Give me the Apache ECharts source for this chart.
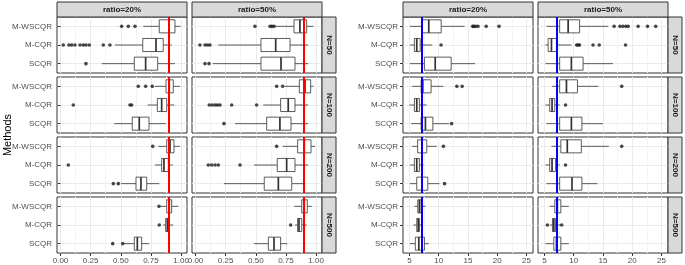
<!DOCTYPE html>
<html>
<head>
<meta charset="utf-8">
<script src="https://cdn.jsdelivr.net/npm/echarts@6/dist/echarts.min.js"></script>
<style>
  html, body { margin: 0; padding: 0; background: #fff; }
  #chart { width: 685px; height: 265px; }
</style>
</head>
<body>
<div id="chart"></div>
<script>
const methods = ['SCQR', 'M-CQR', 'M-WSCQR']
const ratios = ['ratio=20%', 'ratio=50%']
const sizes = ['N=50', 'N=100', 'N=200', 'N=500']

const coverageTicks = [0, 0.25, 0.5, 0.75, 1]
const coverageMinor = [0.125, 0.375, 0.625, 0.875]
const lengthTicks = [5, 10, 15, 20, 25]
const lengthMinor = [7.5, 12.5, 17.5, 22.5]

const coverageTarget = 0.9
const lengthTarget = 7.05

// rows = N, items = methods (SCQR, M-CQR, M-WSCQR), [min, Q1, median, Q3, max]
const coverageBox20 = [
  [[0.342, 0.612, 0.706, 0.806, 0.949], [0.452, 0.682, 0.792, 0.852, 0.922], [0.687, 0.819, 0.90, 0.949, 0.995]],
  [[0.446, 0.595, 0.653, 0.734, 0.875], [0.723, 0.803, 0.839, 0.881, 0.944], [0.784, 0.875, 0.902, 0.935, 0.99]],
  [[0.502, 0.626, 0.667, 0.715, 0.819], [0.784, 0.839, 0.858, 0.894, 0.93], [0.811, 0.881, 0.908, 0.941, 0.99]],
  [[0.527, 0.612, 0.637, 0.673, 0.736], [0.852, 0.872, 0.886, 0.9, 0.935], [0.833, 0.881, 0.902, 0.922, 0.977]]
]
const coverageOut20 = [
  [[0.211], [0.023, 0.07, 0.093, 0.12, 0.162, 0.189, 0.211, 0.239, 0.355, 0.41], [0.507, 0.562, 0.618]],
  [[], [0.106, 0.576, 0.59], [0.645, 0.706, 0.761]],
  [[0.438, 0.479], [0.065], [0.765]],
  [[0.433, 0.516], [0.819], [0.817]]
]
const coverageBox50 = [
  [[0.143, 0.543, 0.709, 0.825, 0.935], [0.189, 0.543, 0.665, 0.784, 0.935], [0.659, 0.817, 0.866, 0.922, 0.977]],
  [[0.328, 0.59, 0.70, 0.792, 0.935], [0.562, 0.706, 0.769, 0.825, 0.935], [0.742, 0.861, 0.908, 0.955, 0.977]],
  [[0.236, 0.57, 0.687, 0.798, 0.9], [0.485, 0.678, 0.756, 0.825, 0.935], [0.723, 0.847, 0.902, 0.958, 0.991]],
  [[0.485, 0.604, 0.651, 0.706, 0.761], [0.825, 0.847, 0.858, 0.881, 0.922], [0.819, 0.881, 0.902, 0.927, 0.964]]
]
const coverageOut50 = [
  [[0.079, 0.112], [0.037, 0.079, 0.1, 0.12], [0.493, 0.618, 0.634, 0.651]],
  [[0.236], [0.114, 0.139, 0.162, 0.181, 0.203, 0.3, 0.507], [0.673, 0.723]],
  [[], [0.106, 0.134, 0.162, 0.189, 0.369], [0.673]],
  [[], [0.789], []]
]

const lengthBox20 = [
  [[5.1, 7.56, 9.4, 12.13, 16.2], [5.1, 5.85, 6.25, 6.83, 8.9], [5.1, 7.17, 8.3, 10.42, 14.4]],
  [[5.3, 7.0, 7.73, 9.0, 11.8], [5.0, 5.85, 6.25, 6.7, 7.96], [5.46, 7.0, 7.28, 8.7, 10.8]],
  [[5.1, 6.25, 7.17, 8.13, 10.1], [5.1, 5.85, 6.25, 6.7, 7.4], [5.46, 6.4, 7.17, 7.96, 9.67]],
  [[5.1, 6.0, 6.6, 7.56, 8.3], [5.68, 6.25, 6.5, 6.7, 7.17], [5.85, 6.42, 6.7, 7.0, 7.73]]
]
const lengthOut20 = [
  [[], [10.4], [15.8, 16.0, 16.3, 16.7, 18.1, 20.3]],
  [[12.2], [], [13.1, 14.0]],
  [[11.0], [], [10.8]],
  [[], [], []]
]
const lengthBox50 = [
  [[5.17, 7.6, 9.6, 11.6, 16.7], [5.17, 5.63, 6.2, 7.05, 9.6], [5.34, 7.6, 9.05, 11.0, 15.9]],
  [[5.34, 7.6, 9.6, 11.4, 15.0], [5.17, 5.9, 6.3, 6.77, 7.6], [6.3, 7.6, 8.76, 10.64, 14.2]],
  [[5.34, 7.6, 9.7, 11.4, 14.05], [5.17, 5.9, 6.3, 6.9, 7.6], [6.2, 7.8, 8.9, 11.3, 16.0]],
  [[5.17, 6.6, 7.05, 7.8, 9.15], [5.9, 6.37, 6.6, 6.88, 7.8], [5.9, 6.77, 7.2, 7.8, 9.15]]
]
const lengthOut50 = [
  [[], [10.5, 10.75, 11.0, 13.3, 14.35, 18.85], [16.9, 17.9, 18.4, 18.9, 19.3, 21.0, 22.6, 24.0]],
  [[], [8.6], [18.2]],
  [[], [8.6], [18.2]],
  [[], [5.5, 7.95], []]
]

const FONT = 'Liberation Sans, Arial, sans-serif'
const PW = 130, PH = 56
const ROW_TOP = [17, 77, 137, 197]
const STRIP_TOP = 2, STRIP_H = 15, STRIP_W = 14

const figs = [
  { left: [57, 192], box: [coverageBox20, coverageBox50], out: [coverageOut20, coverageOut50],
    min: -0.029, max: 1.049, ticks: coverageTicks, minor: coverageMinor,
    fmt: v => v.toFixed(2), target: coverageTarget, color: '#ff0000', title: true },
  { left: [403, 538], box: [lengthBox20, lengthBox50], out: [lengthOut20, lengthOut50],
    min: 3.9, max: 26.1, ticks: lengthTicks, minor: lengthMinor,
    fmt: v => String(v), target: lengthTarget, color: '#0000ff', title: false }
]

function renderBox(params, api) {
  const cat = api.value(0)
  const y = api.coord([api.value(1), cat])[1]
  const h = api.size([0, 1])[1] * 0.35
  const xs = [1, 2, 3, 4, 5].map(d => api.coord([api.value(d), cat])[0])
  const stroke = { stroke: '#333333', lineWidth: 0.8 }
  return {
    type: 'group',
    children: [
      { type: 'line', shape: { x1: xs[0], y1: y, x2: xs[1], y2: y }, style: stroke },
      { type: 'line', shape: { x1: xs[3], y1: y, x2: xs[4], y2: y }, style: stroke },
      { type: 'rect', shape: { x: xs[1], y: y - h, width: xs[3] - xs[1], height: 2 * h },
        style: { fill: '#ffffff', stroke: '#333333', lineWidth: 0.8 } },
      { type: 'line', shape: { x1: xs[2], y1: y - h, x2: xs[2], y2: y + h },
        style: { stroke: '#333333', lineWidth: 1.7 } }
    ]
  }
}

const grid = [], xAxis = [], yAxis = [], series = [], graphic = []

figs.forEach((fig, f) => {
  sizes.forEach((size, r) => {
    ratios.forEach((ratio, c) => {
      const g = grid.length
      const bottom = r === sizes.length - 1
      const leftCol = c === 0
      grid.push({
        left: fig.left[c], top: ROW_TOP[r], width: PW, height: PH,
        show: true, backgroundColor: '#ffffff', borderColor: '#333333', borderWidth: 1
      })
      xAxis.push({
        gridIndex: g, type: 'value', min: fig.min, max: fig.max,
        axisLine: { show: false },
        axisTick: { show: bottom, customValues: fig.ticks, length: 3, lineStyle: { color: '#333333' } },
        axisLabel: { show: bottom, customValues: fig.ticks, formatter: fig.fmt, margin: 4,
          fontSize: 8, color: '#4d4d4d', fontFamily: FONT },
        splitLine: { show: true, customValues: fig.ticks, lineStyle: { color: '#ebebeb', width: 1 } }
      })
      xAxis.push({
        gridIndex: g, type: 'value', min: fig.min, max: fig.max,
        axisLine: { show: false },
        axisTick: { show: false, customValues: fig.minor },
        axisLabel: { show: false, customValues: fig.minor },
        splitLine: { show: true, customValues: fig.minor, lineStyle: { color: '#f3f3f3', width: 1 } }
      })
      yAxis.push({
        gridIndex: g, type: 'category', data: methods,
        axisLine: { show: false },
        axisTick: { show: leftCol, alignWithLabel: true, length: 3, lineStyle: { color: '#333333' } },
        axisLabel: { show: leftCol, interval: 0, margin: 5, fontSize: 8, color: '#4d4d4d', fontFamily: FONT },
        splitLine: { show: true, alignWithLabel: true, lineStyle: { color: '#ebebeb', width: 1 } }
      })

      series.push({
        type: 'custom', xAxisIndex: 2 * g, yAxisIndex: g,
        renderItem: renderBox,
        encode: { x: [1, 2, 3, 4, 5], y: 0 },
        data: fig.box[c][r].map((s, i) => [i].concat(s)),
        silent: true, z: 2
      })

      const pts = []
      fig.out[c][r].forEach((vals, i) => vals.forEach(v => pts.push([v, i])))
      series.push({
        type: 'scatter', xAxisIndex: 2 * g, yAxisIndex: g,
        data: pts, symbolSize: 3.6, itemStyle: { color: '#1a1a1a' },
        silent: true, z: 3,
        markLine: {
          silent: true, symbol: ['none', 'none'], label: { show: false },
          lineStyle: { color: fig.color, width: 2, type: 'solid' },
          data: [{ xAxis: fig.target }]
        }
      })
    })

    // right strip for N
    const sx = fig.left[1] + PW
    graphic.push({
      type: 'rect', shape: { x: sx, y: ROW_TOP[r], width: STRIP_W, height: PH },
      style: { fill: '#d9d9d9', stroke: '#333333', lineWidth: 1 }, z: 10
    })
    graphic.push({
      type: 'text', x: sx + STRIP_W / 2, y: ROW_TOP[r] + PH / 2, rotation: -Math.PI / 2,
      style: { text: size, align: 'center', verticalAlign: 'middle', fill: '#1a1a1a',
        font: 'bold 8px ' + FONT }, z: 11
    })
  })

  ratios.forEach((ratio, c) => {
    graphic.push({
      type: 'rect', shape: { x: fig.left[c], y: STRIP_TOP, width: PW, height: STRIP_H },
      style: { fill: '#d9d9d9', stroke: '#333333', lineWidth: 1 }, z: 10
    })
    graphic.push({
      type: 'text', x: fig.left[c] + PW / 2, y: STRIP_TOP + STRIP_H / 2,
      style: { text: ratio, align: 'center', verticalAlign: 'middle', fill: '#1a1a1a',
        font: 'bold 8px ' + FONT }, z: 11
    })
  })

  if (fig.title) {
    graphic.push({
      type: 'text', x: 8, y: 135, rotation: Math.PI / 2,
      style: { text: 'Methods', align: 'center', verticalAlign: 'middle', fill: '#000000',
        font: '11px ' + FONT }, z: 11
    })
  }
})

const chart = echarts.init(document.getElementById('chart'), null, { renderer: 'canvas' })
chart.setOption({
  animation: false,
  backgroundColor: '#ffffff',
  grid, xAxis, yAxis, series, graphic
})
</script>
</body>
</html>
